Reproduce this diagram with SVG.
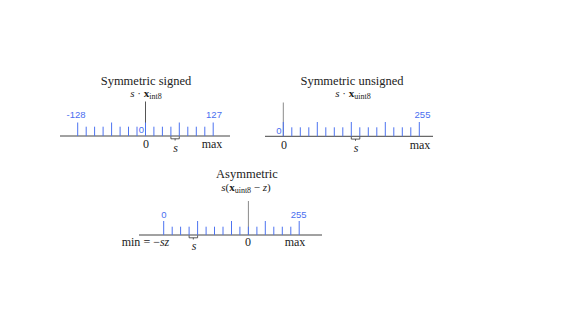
<svg xmlns="http://www.w3.org/2000/svg" width="573" height="323" viewBox="0 0 573 323">
<style>
.title{font-family:"Liberation Serif","DejaVu Serif",serif;font-size:12.5px;fill:#222;text-anchor:middle}
.sub{font-family:"Liberation Serif","DejaVu Serif",serif;font-size:11px;fill:#222;text-anchor:middle}
.lab{font-family:"Liberation Serif","DejaVu Serif",serif;font-size:12px;fill:#222;text-anchor:middle}
.blue{font-family:"Liberation Sans","DejaVu Sans",sans-serif;font-size:9.5px;fill:#4a6ef0;text-anchor:middle}
.axis{stroke:#444;stroke-width:1;fill:none}
.tick{stroke:#4d73f0;stroke-width:1}
.zero{stroke:#555;stroke-width:1}
.zero2{stroke:#8a8a8a;stroke-width:1}
.brace{stroke:#333;stroke-width:0.8;fill:none}
.it{font-style:italic}
.bf{font-weight:bold}
</style>
<rect width="573" height="323" fill="#fff"/>

<g id="symmetric-signed">
<text class="title" x="146" y="84.5">Symmetric signed</text>
<text class="sub" x="146" y="97"><tspan class="it">s</tspan> · <tspan class="bf">x</tspan><tspan font-size="8" dy="1.8">int8</tspan></text>
<line class="zero" x1="145.5" y1="101.5" x2="145.5" y2="136"/>
<line class="axis" x1="60" y1="136" x2="230" y2="136"/>
<g class="tick">
<line x1="77.7" y1="122.5" x2="77.7" y2="136"/>
<line x1="86.2" y1="126.7" x2="86.2" y2="136"/>
<line x1="94.6" y1="126.7" x2="94.6" y2="136"/>
<line x1="103.1" y1="126.7" x2="103.1" y2="136"/>
<line x1="111.6" y1="122.5" x2="111.6" y2="136"/>
<line x1="120.1" y1="126.7" x2="120.1" y2="136"/>
<line x1="128.5" y1="126.7" x2="128.5" y2="136"/>
<line x1="137.0" y1="126.7" x2="137.0" y2="136"/>
<line x1="145.5" y1="122.5" x2="145.5" y2="136"/>
<line x1="153.9" y1="126.7" x2="153.9" y2="136"/>
<line x1="162.4" y1="126.7" x2="162.4" y2="136"/>
<line x1="170.9" y1="126.7" x2="170.9" y2="136"/>
<line x1="179.3" y1="122.5" x2="179.3" y2="136"/>
<line x1="187.8" y1="126.7" x2="187.8" y2="136"/>
<line x1="196.3" y1="126.7" x2="196.3" y2="136"/>
<line x1="204.8" y1="126.7" x2="204.8" y2="136"/>
<line x1="213.2" y1="122.5" x2="213.2" y2="136"/>
</g>
<text class="blue" x="76" y="117.5">-128</text>
<text class="blue" x="214" y="117.5">127</text>
<text class="blue" x="141.3" y="132.5">0</text>
<path class="brace" d="M170.9,136.5 V138.8 H179.3 V136.5 M175.1,138.8 V140.5"/>
<text class="lab" x="146" y="148">0</text>
<text class="lab it" x="175.5" y="151.5">s</text>
<text class="lab" x="212" y="148">max</text>
</g>

<g id="symmetric-unsigned">
<text class="title" x="352" y="84.5">Symmetric unsigned</text>
<text class="sub" x="353" y="97"><tspan class="it">s</tspan> · <tspan class="bf">x</tspan><tspan font-size="8" dy="1.8">uint8</tspan></text>
<line class="zero2" x1="283.3" y1="102.5" x2="283.3" y2="136.3"/>
<line class="axis" x1="265" y1="136.3" x2="433" y2="136.3"/>
<g class="tick">
<line x1="283.3" y1="122" x2="283.3" y2="136.3"/>
<line x1="291.8" y1="127.3" x2="291.8" y2="136.3"/>
<line x1="300.3" y1="127.3" x2="300.3" y2="136.3"/>
<line x1="308.8" y1="127.3" x2="308.8" y2="136.3"/>
<line x1="317.3" y1="122" x2="317.3" y2="136.3"/>
<line x1="325.8" y1="127.3" x2="325.8" y2="136.3"/>
<line x1="334.3" y1="127.3" x2="334.3" y2="136.3"/>
<line x1="342.8" y1="127.3" x2="342.8" y2="136.3"/>
<line x1="351.3" y1="122" x2="351.3" y2="136.3"/>
<line x1="359.8" y1="127.3" x2="359.8" y2="136.3"/>
<line x1="368.3" y1="127.3" x2="368.3" y2="136.3"/>
<line x1="376.8" y1="127.3" x2="376.8" y2="136.3"/>
<line x1="385.3" y1="122" x2="385.3" y2="136.3"/>
<line x1="393.8" y1="127.3" x2="393.8" y2="136.3"/>
<line x1="402.3" y1="127.3" x2="402.3" y2="136.3"/>
<line x1="410.8" y1="127.3" x2="410.8" y2="136.3"/>
<line x1="419.3" y1="122" x2="419.3" y2="136.3"/>
</g>
<text class="blue" x="278.8" y="134">0</text>
<text class="blue" x="422.5" y="117.5">255</text>
<path class="brace" d="M351.3,136.8 V139.1 H359.8 V136.8 M355.5,139.1 V140.8"/>
<text class="lab" x="284" y="148.5">0</text>
<text class="lab it" x="356" y="151.5">s</text>
<text class="lab" x="420" y="148.5">max</text>
</g>

<g id="asymmetric">
<text class="title" x="247" y="177.7">Asymmetric</text>
<text class="sub" x="246" y="191"><tspan class="it">s</tspan>(<tspan class="bf">x</tspan><tspan font-size="8" dy="1.8">uint8</tspan><tspan dy="-1.8"> − </tspan><tspan class="it">z</tspan>)</text>
<line class="zero2" x1="248.4" y1="201" x2="248.4" y2="235"/>
<line class="axis" x1="139" y1="235" x2="322" y2="235"/>
<g class="tick">
<line x1="163.7" y1="221" x2="163.7" y2="235"/>
<line x1="172.2" y1="226.7" x2="172.2" y2="235"/>
<line x1="180.6" y1="226.7" x2="180.6" y2="235"/>
<line x1="189.1" y1="226.7" x2="189.1" y2="235"/>
<line x1="197.6" y1="221" x2="197.6" y2="235"/>
<line x1="206.1" y1="226.7" x2="206.1" y2="235"/>
<line x1="214.5" y1="226.7" x2="214.5" y2="235"/>
<line x1="223.0" y1="226.7" x2="223.0" y2="235"/>
<line x1="231.5" y1="221" x2="231.5" y2="235"/>
<line x1="239.9" y1="226.7" x2="239.9" y2="235"/>
<line x1="248.4" y1="226.7" x2="248.4" y2="235"/>
<line x1="256.9" y1="226.7" x2="256.9" y2="235"/>
<line x1="265.3" y1="221" x2="265.3" y2="235"/>
<line x1="273.8" y1="226.7" x2="273.8" y2="235"/>
<line x1="282.3" y1="226.7" x2="282.3" y2="235"/>
<line x1="290.8" y1="226.7" x2="290.8" y2="235"/>
<line x1="299.2" y1="221" x2="299.2" y2="235"/>
</g>
<text class="blue" x="164" y="217.5">0</text>
<text class="blue" x="298.7" y="217.5">255</text>
<path class="brace" d="M189.1,235.5 V237.8 H197.6 V235.5 M193.3,237.8 V239.5"/>
<text class="lab" x="145.5" y="245.5">min<tspan dx="3">=</tspan><tspan dx="3">−</tspan><tspan class="it">sz</tspan></text>
<text class="lab" x="248" y="245.5">0</text>
<text class="lab it" x="194" y="249.5">s</text>
<text class="lab" x="295" y="245.5">max</text>
</g>
</svg>
